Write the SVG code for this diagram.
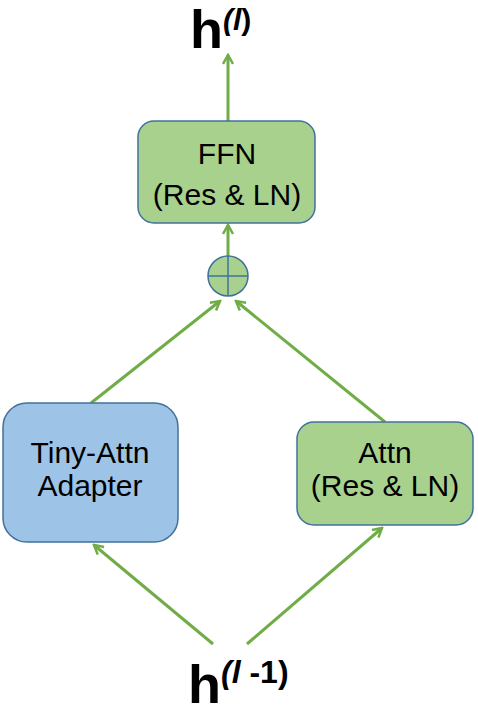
<svg xmlns="http://www.w3.org/2000/svg" width="478" height="715" viewBox="0 0 478 715">
<style>
.box{stroke:#41719c;stroke-width:1.5}
.g{fill:#a9d18e}
.b{fill:#9dc3e6}
.t{font-family:"Liberation Sans",Arial,sans-serif;font-size:30px;fill:#000;text-anchor:middle}
.h{font-family:"Liberation Sans",Arial,sans-serif;font-weight:bold;fill:#000}
.c{stroke:#70ad47;stroke-width:3;fill:none;marker-end:url(#ah)}
</style>
<defs>
<marker id="ah" viewBox="0 0 12 12" refX="10" refY="6" markerWidth="12" markerHeight="12" markerUnits="userSpaceOnUse" orient="auto">
<path d="M1,1 L10,6 L1,11" fill="none" stroke="#70ad47" stroke-width="2.5" stroke-linejoin="miter"/>
</marker>
</defs>
<g id="connectors">
<line class="c" x1="228" y1="121" x2="228" y2="55"/>
<line class="c" x1="228" y1="256" x2="228" y2="225"/>
<line class="c" x1="91" y1="403" x2="220" y2="301"/>
<line class="c" x1="385" y1="422" x2="236" y2="301"/>
<line class="c" x1="213" y1="644" x2="94" y2="545"/>
<line class="c" x1="247" y1="644" x2="382" y2="528"/>
</g>
<g id="h_out">
<text class="h" x="190" y="48" font-size="54">h<tspan font-size="30" dy="-18"><tspan font-style="italic">(l</tspan>)</tspan></text>
</g>
<g id="ffn">
<rect class="box g" x="138" y="121" width="177" height="102" rx="16"/>
<text class="t" x="227" y="164">FFN</text>
<text class="t" x="227" y="205">(Res &amp; LN)</text>
</g>
<g id="add">
<circle class="box g" cx="228" cy="276" r="20"/>
<line x1="208" y1="276" x2="248" y2="276" stroke="#41719c" stroke-width="1.5"/>
<line x1="228" y1="256" x2="228" y2="296" stroke="#41719c" stroke-width="1.5"/>
</g>
<g id="tiny">
<rect class="box b" x="3" y="403" width="175" height="139" rx="24"/>
<text class="t" x="90" y="463">Tiny-Attn</text>
<text class="t" x="90" y="496">Adapter</text>
</g>
<g id="attn">
<rect class="box g" x="297" y="422" width="176" height="103" rx="17"/>
<text class="t" x="385" y="463">Attn</text>
<text class="t" x="385" y="496">(Res &amp; LN)</text>
</g>
<g id="h_in">
<text class="h" x="188" y="703" font-size="54">h<tspan font-size="32" dy="-20"><tspan font-style="italic">(l</tspan> -1)</tspan></text>
</g>
</svg>
